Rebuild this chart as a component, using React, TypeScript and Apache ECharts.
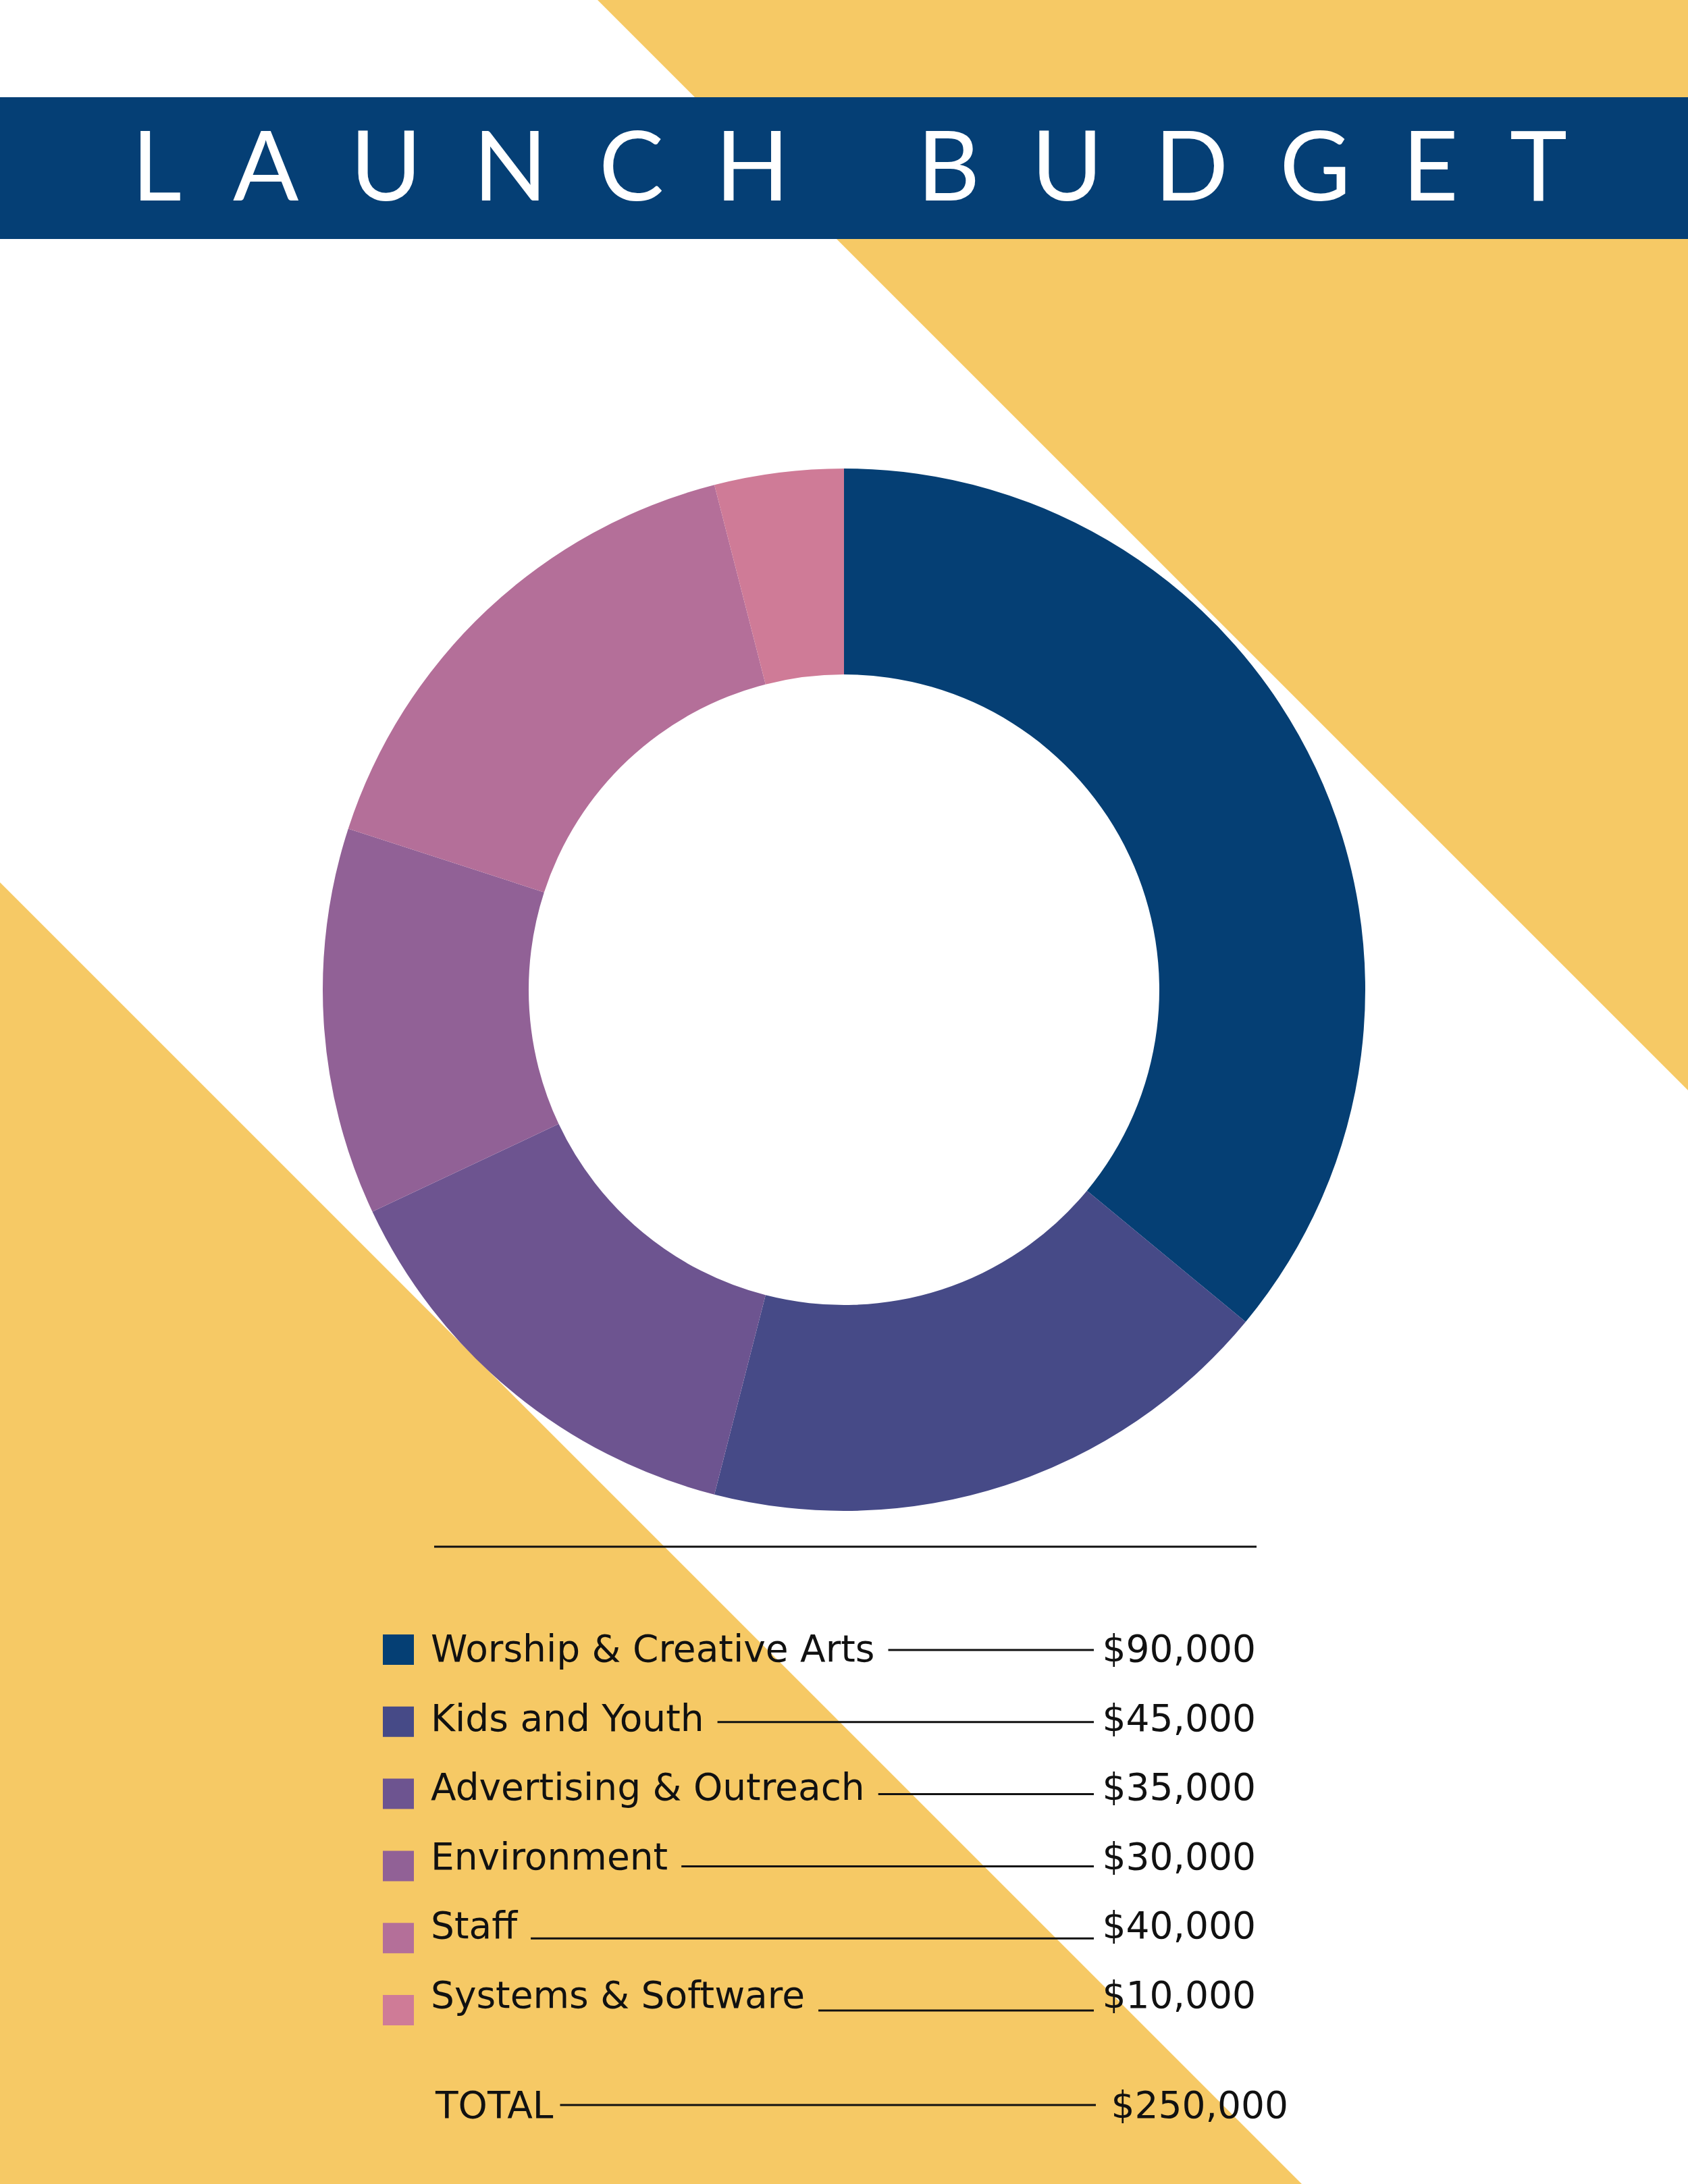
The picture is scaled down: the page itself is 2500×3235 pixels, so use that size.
import React, { useEffect, useRef } from "react";
import * as echarts from "echarts";

// Budget lines, in the order they run clockwise round the ring from 12 o'clock
const categories = [
  "Worship & Creative Arts",
  "Kids and Youth",
  "Advertising & Outreach",
  "Environment",
  "Staff",
  "Systems & Software",
];
const budget = [90000, 45000, 35000, 30000, 40000, 10000];
const titleText = "LAUNCH BUDGET";
const totalLabel = "TOTAL";

const sliceColors = ["#053f74", "#464a87", "#6d5490", "#916196", "#b46f99", "#cf7b97"];
const YELLOW = "#f6c965";
const NAVY = "#053f75";
const INK = "#111111";

const W = 2500;
const H = 3235;

const money = (v: number) => "$" + v.toLocaleString("en-US");

function measure(text: string, font: string) {
  const c = document.createElement("canvas").getContext("2d")!;
  c.font = font;
  return c.measureText(text).width;
}

export default function App() {
  const ref = useRef<HTMLDivElement>(null);

  useEffect(() => {
    if (!ref.current) return;
    const chart = echarts.init(ref.current, undefined, { renderer: "svg" });

    // ---- banner title, tracked out letter by letter ----
    const titleFamily = "Lato";
    const titleSize = 144;
    const titleWeight = 400;
    const titleFont = `${titleWeight} ${titleSize}px ${titleFamily}`;
    const titleLeft = 195;
    const titleRight = 2321;
    const chars = titleText.split("");
    const widths = chars.map((ch) => measure(ch, titleFont));
    const natural = widths.reduce((a, b) => a + b, 0);
    const tracking = (titleRight - titleLeft - natural) / (chars.length - 1);
    const titleEls: any[] = [];
    let cx = titleLeft;
    chars.forEach((ch, i) => {
      if (ch !== " ") {
        titleEls.push({
          type: "text",
          z: 5,
          style: {
            text: ch,
            x: cx,
            y: 241,
            fill: "#ffffff",
            fontSize: titleSize,
            fontFamily: titleFamily,
            fontWeight: titleWeight,
            textAlign: "left",
            textVerticalAlign: "middle",
          },
        });
      }
      cx += widths[i] + tracking;
    });

    // ---- legend table below the ring ----
    const legFamily = "DejaVu Sans";
    const legSize = 55;
    const legFont = `400 ${legSize}px "${legFamily}"`;
    const nameX = 638;
    const swatchX = 567;
    const swatch = 46;
    const textTop = 2442;
    const textStep = 102.6;
    const markTop = 2444;
    const markStep = 106.8;
    const ruleEnd = 1620;
    const valueRight = 1860;

    const legendEls: any[] = [];
    categories.forEach((name, i) => {
      const ty = textTop + i * textStep;
      const my = markTop + i * markStep;
      const nameW = measure(name, legFont);
      legendEls.push({
        type: "rect",
        z: 5,
        shape: { x: swatchX, y: my - swatch / 2, width: swatch, height: swatch - 1 },
        style: { fill: sliceColors[i] },
      });
      legendEls.push({
        type: "text",
        z: 5,
        style: {
          text: name,
          x: nameX,
          y: ty,
          fill: INK,
          fontSize: legSize,
          fontFamily: legFamily,
          textAlign: "left",
          textVerticalAlign: "middle",
        },
      });
      legendEls.push({
        type: "line",
        z: 5,
        shape: { x1: Math.min(nameX + nameW + 20, ruleEnd - 40), y1: my, x2: ruleEnd, y2: my },
        style: { stroke: INK, lineWidth: 3 },
      });
      legendEls.push({
        type: "text",
        z: 5,
        style: {
          text: money(budget[i]),
          x: valueRight,
          y: ty,
          fill: INK,
          fontSize: legSize,
          fontFamily: legFamily,
          textAlign: "right",
          textVerticalAlign: "middle",
        },
      });
    });

    const total = budget.reduce((a, b) => a + b, 0);
    const totalY = 3118;
    const totalX = 645;
    const totalW = measure(totalLabel, legFont);
    legendEls.push(
      {
        type: "text",
        z: 5,
        style: {
          text: totalLabel,
          x: totalX,
          y: totalY,
          fill: INK,
          fontSize: legSize,
          fontFamily: legFamily,
          textAlign: "left",
          textVerticalAlign: "middle",
        },
      },
      {
        type: "line",
        z: 5,
        shape: { x1: totalX + totalW + 10, y1: totalY, x2: 1623, y2: totalY },
        style: { stroke: INK, lineWidth: 3 },
      },
      {
        type: "text",
        z: 5,
        style: {
          text: money(total),
          x: 1908,
          y: totalY,
          fill: INK,
          fontSize: legSize,
          fontFamily: legFamily,
          textAlign: "right",
          textVerticalAlign: "middle",
        },
      },
      {
        type: "line",
        z: 5,
        shape: { x1: 643, y1: 2291, x2: 1861, y2: 2291 },
        style: { stroke: INK, lineWidth: 3 },
      }
    );

    chart.setOption({
      animation: false,
      backgroundColor: "#ffffff",
      graphic: [
        // diagonal yellow bands
        {
          type: "polygon",
          z: -10,
          shape: { points: [[885, 0], [W, 0], [W, 1615]] },
          style: { fill: YELLOW },
        },
        {
          type: "polygon",
          z: -10,
          shape: { points: [[0, 1307], [0, H], [1928, H]] },
          style: { fill: YELLOW },
        },
        // title banner
        {
          type: "rect",
          z: 4,
          shape: { x: 0, y: 144, width: W, height: 210 },
          style: { fill: NAVY },
        },
        ...titleEls,
        ...legendEls,
      ],
      series: [
        {
          type: "pie",
          center: [1250, 1466],
          radius: [467, 772],
          startAngle: 90,
          clockwise: true,
          silent: true,
          label: { show: false },
          labelLine: { show: false },
          emphasis: { disabled: true },
          itemStyle: { borderWidth: 0 },
          data: categories.map((name, i) => ({
            name,
            value: budget[i],
            itemStyle: { color: sliceColors[i] },
          })),
        },
      ],
    });

    return () => chart.dispose();
  }, []);

  return (
    <div
      ref={ref}
      style={{ position: "absolute", left: 0, top: 0, width: W, height: H }}
    />
  );
}
